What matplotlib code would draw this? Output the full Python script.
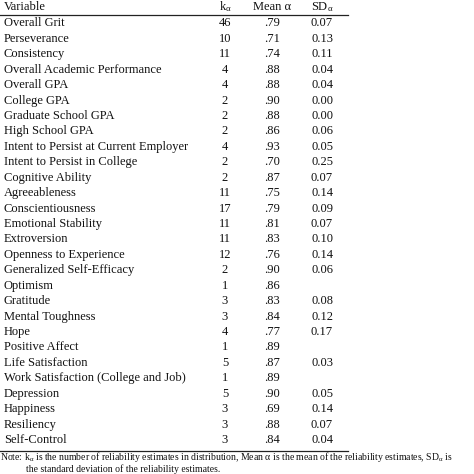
import matplotlib
matplotlib.use("Agg")
import matplotlib.pyplot as plt
plt.rcParams['mathtext.fontset']='custom'
plt.rcParams['mathtext.rm']='Liberation Serif'
plt.rcParams['mathtext.it']='Liberation Serif'

variables = ["Overall Grit","Perseverance","Consistency","Overall Academic Performance","Overall GPA",
 "College GPA","Graduate School GPA","High School GPA","Intent to Persist at Current Employer",
 "Intent to Persist in College","Cognitive Ability","Agreeableness","Conscientiousness",
 "Emotional Stability","Extroversion","Openness to Experience","Generalized Self-Efficacy",
 "Optimism","Gratitude","Mental Toughness","Hope","Positive Affect","Life Satisfaction",
 "Work Satisfaction (College and Job)","Depression","Happiness","Resiliency","Self-Control"]
k = ["46","10","11","4","4","2","2","2","4","2","2","11","17","11","11","12","2","1","3","3","4","1","5","1","5","3","3","3"]
mean = [".79",".71",".74",".88",".88",".90",".88",".86",".93",".70",".87",".75",".79",".81",".83",".76",".90",".86",".83",".84",".77",".89",".87",".89",".90",".69",".88",".84"]
sd = ["0.07","0.13","0.11","0.04","0.04","0.00","0.00","0.06","0.05","0.25","0.07","0.14","0.09","0.07","0.10","0.14","0.06","","0.08","0.12","0.17","","0.03","","0.05","0.14","0.07","0.04"]

fig = plt.figure(figsize=(4.74,4.74), dpi=100)
W=H=474
def T(x,y,s,ha="left",size=9.0):
    fig.text(x/W, 1-y/H, s, ha=ha, va="center", fontsize=size, family="Liberation Serif", color="#111")
T(4,7,"Variable"); T(225,7,r"k$_\mathrm{\alpha}$",ha="center"); T(272,7,"Mean α",ha="center"); T(322,7,r"SD$_\mathrm{\alpha}$",ha="center")
def L(y):
    fig.add_artist(plt.Line2D([0,348/W],[1-y/H]*2,color="#222",lw=0.9))
L(14.5)
y0=23.5; dy=(440-23.5)/27
for i,v in enumerate(variables):
    y=y0+i*dy
    T(4,y,v); T(225,y,k[i],ha="center"); T(272,y,mean[i],ha="center"); T(322,y,sd[i],ha="center")
L(451)
T(0,457,r"Note: k$_\mathrm{\alpha}$ is the number of reliability estimates in distribution, Mean α is the mean of the reliability estimates, SD$_\mathrm{\alpha}$ is",size=7.0)
T(26,469,"the standard deviation of the reliability estimates.",size=7.0)
fig.savefig("out.png",dpi=100)
